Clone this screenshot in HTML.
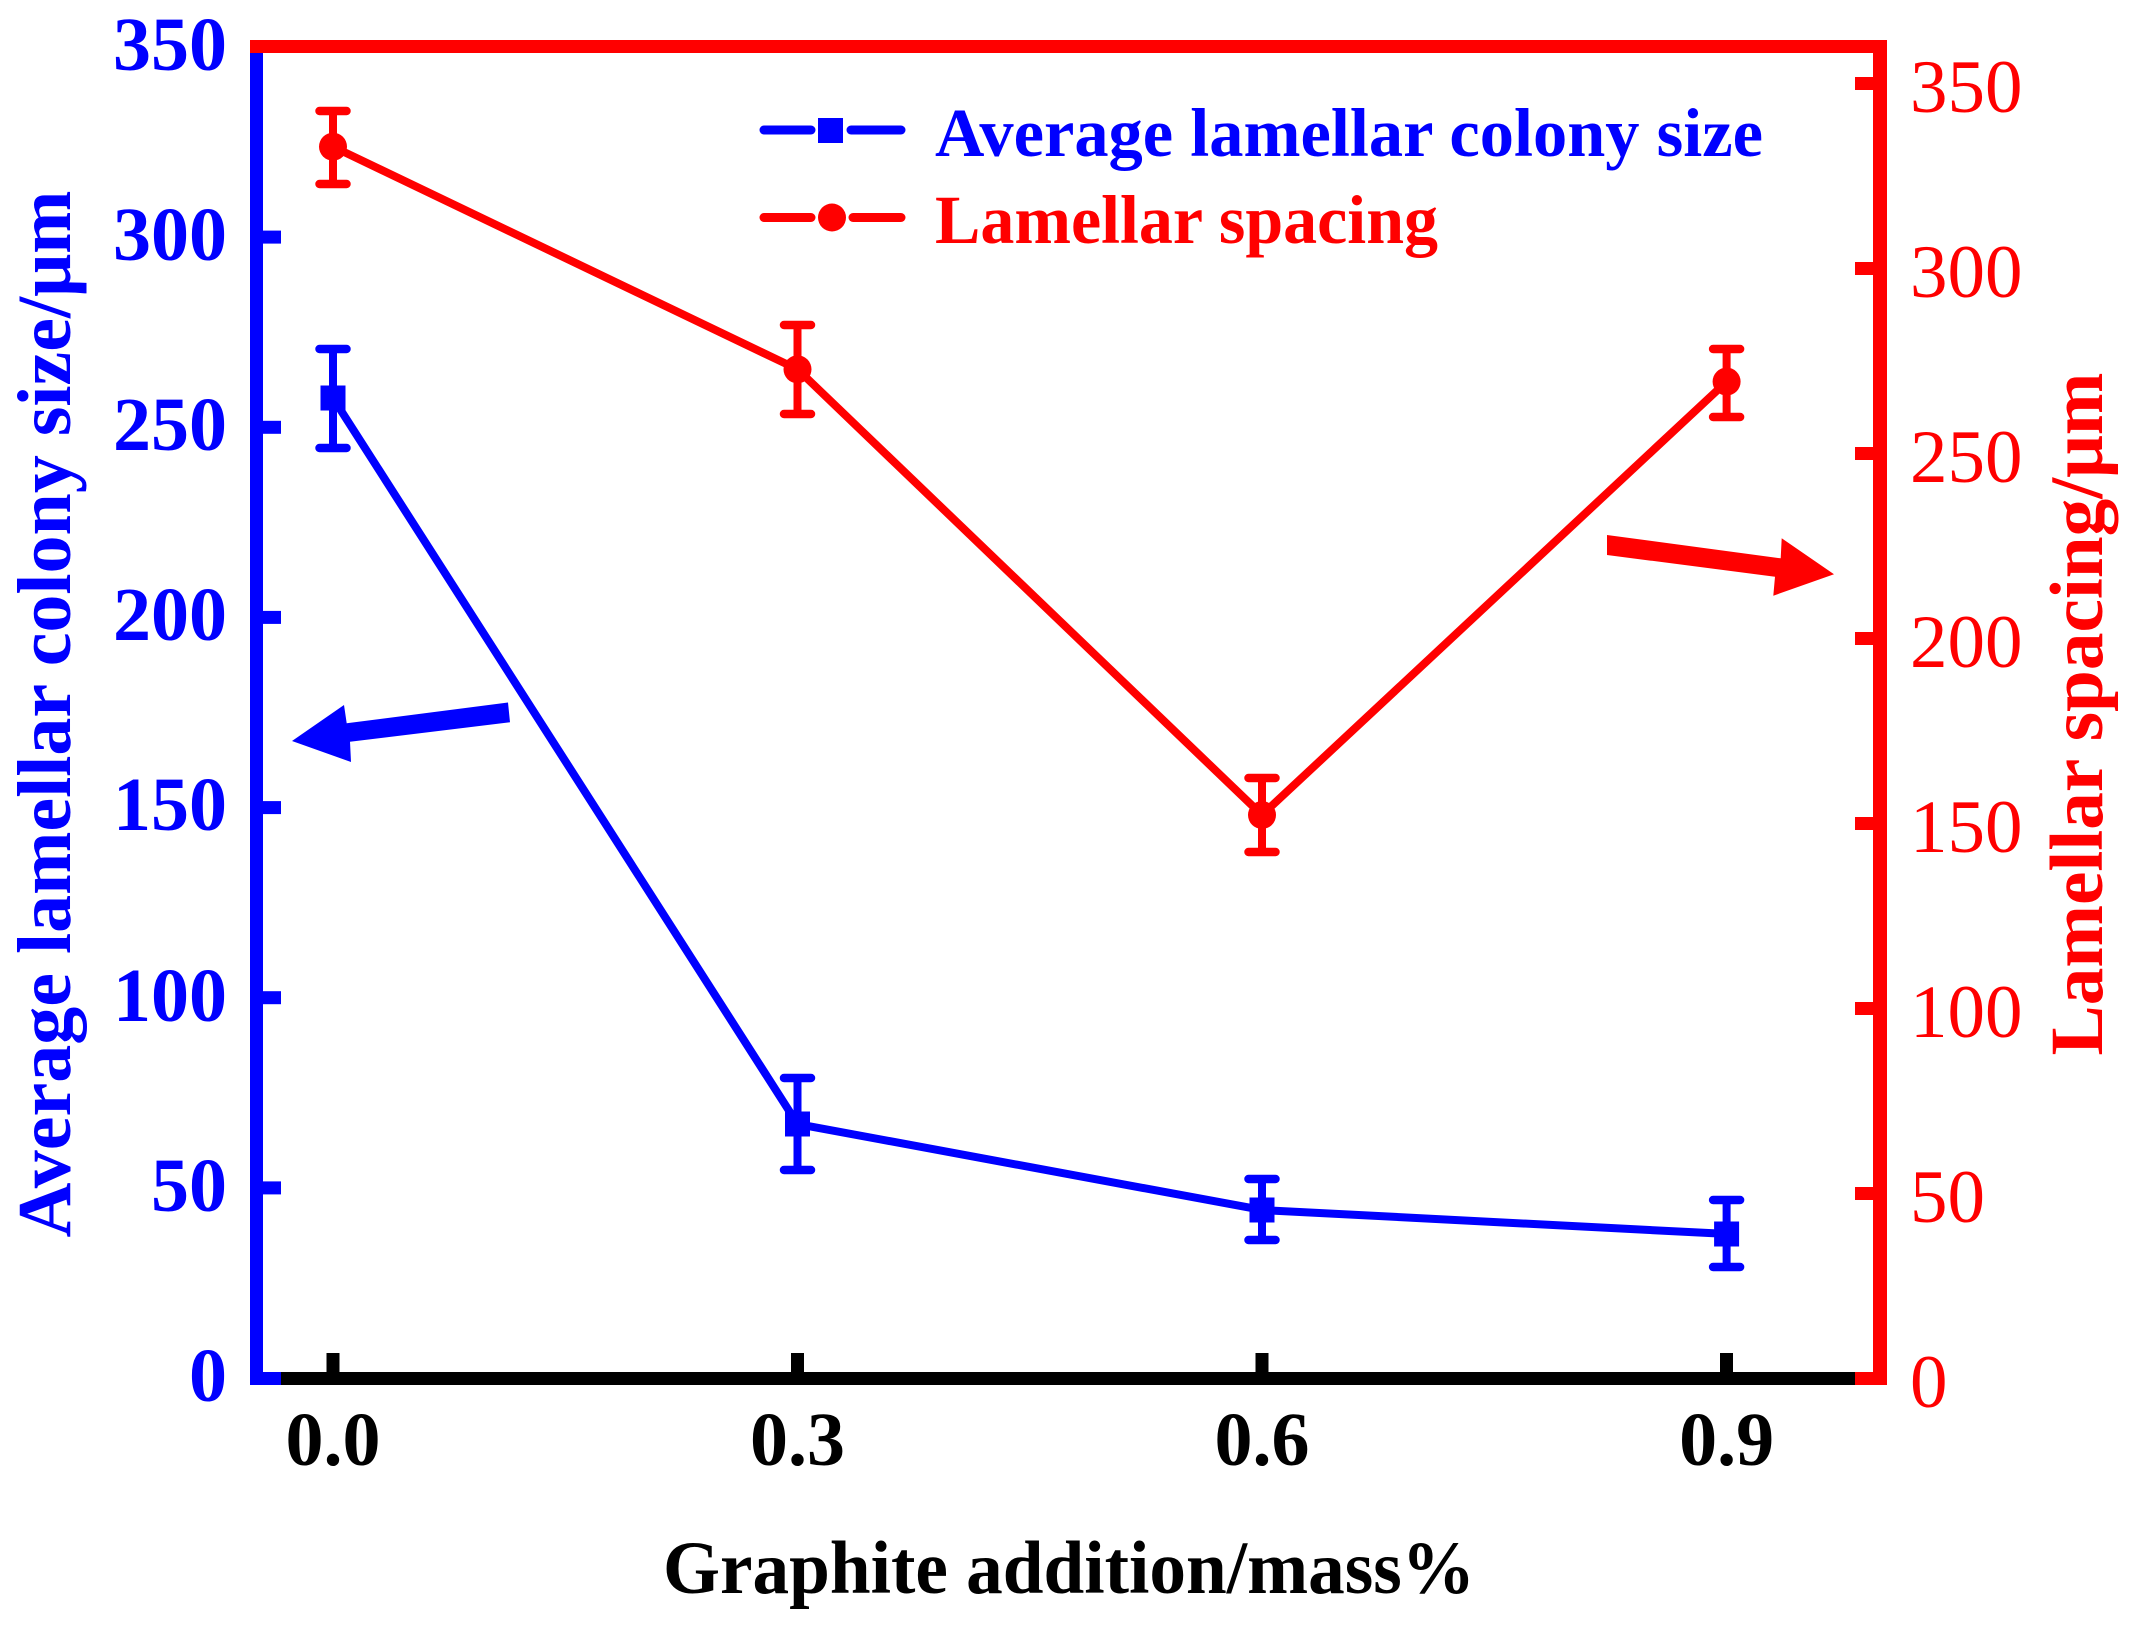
<!DOCTYPE html>
<html>
<head>
<meta charset="utf-8">
<style>
  html, body { margin: 0; padding: 0; background: #fff; }
  svg { display: block; }
  text { font-family: "Liberation Serif", "Times New Roman", serif; }
</style>
</head>
<body>
<svg width="2129" height="1625" viewBox="0 0 2129 1625" xmlns="http://www.w3.org/2000/svg">
  <rect x="0" y="0" width="2129" height="1625" fill="#fff"/>

  <!-- Axes frame -->
  <rect x="250" y="53" width="13" height="1332" fill="#0000FF"/>
  <rect x="250" y="1372" width="31" height="13" fill="#0000FF"/>
  <rect x="281" y="1372" width="1576" height="13" fill="#000"/>
  <rect x="1855" y="1372" width="32" height="13" fill="#FF0000"/>
  <rect x="1873" y="40" width="14" height="1345" fill="#FF0000"/>
  <rect x="250" y="40" width="1637" height="13" fill="#FF0000"/>

  <!-- Left ticks -->
  <g fill="#0000FF">
    <rect x="263" y="1181.4" width="18" height="13"/>
    <rect x="263" y="991.2" width="18" height="13"/>
    <rect x="263" y="801.1" width="18" height="13"/>
    <rect x="263" y="610.9" width="18" height="13"/>
    <rect x="263" y="420.8" width="18" height="13"/>
    <rect x="263" y="230.6" width="18" height="13"/>
  </g>
  <!-- Right ticks -->
  <g fill="#FF0000">
    <rect x="1855" y="1187" width="18" height="13"/>
    <rect x="1855" y="1002" width="18" height="13"/>
    <rect x="1855" y="817" width="18" height="13"/>
    <rect x="1855" y="632" width="18" height="13"/>
    <rect x="1855" y="447" width="18" height="13"/>
    <rect x="1855" y="262" width="18" height="13"/>
    <rect x="1855" y="77" width="18" height="13"/>
  </g>
  <!-- X ticks -->
  <g fill="#000">
    <rect x="326.5" y="1353" width="13" height="19"/>
    <rect x="791" y="1353" width="13" height="19"/>
    <rect x="1255.5" y="1353" width="13" height="19"/>
    <rect x="1720" y="1353" width="13" height="19"/>
  </g>

  <!-- Left tick labels -->
  <g fill="#0000FF" font-weight="bold" font-size="76" text-anchor="end">
    <text x="227" y="1401">0</text>
    <text x="227" y="1211">50</text>
    <text x="227" y="1021">100</text>
    <text x="227" y="830">150</text>
    <text x="227" y="640">200</text>
    <text x="227" y="450">250</text>
    <text x="227" y="260">300</text>
    <text x="227" y="70">350</text>
  </g>
  <!-- Right tick labels -->
  <g fill="#FF0000" font-size="75" text-anchor="start">
    <text x="1910" y="1407">0</text>
    <text x="1910" y="1222">50</text>
    <text x="1910" y="1037">100</text>
    <text x="1910" y="852">150</text>
    <text x="1910" y="667">200</text>
    <text x="1910" y="482">250</text>
    <text x="1910" y="297">300</text>
    <text x="1910" y="112">350</text>
  </g>
  <!-- X tick labels -->
  <g fill="#000" font-weight="bold" font-size="76" text-anchor="middle">
    <text x="333" y="1465">0.0</text>
    <text x="797.5" y="1465">0.3</text>
    <text x="1262" y="1465">0.6</text>
    <text x="1726.6" y="1465">0.9</text>
  </g>

  <!-- Axis titles -->
  <text x="1069" y="1593" fill="#000" font-weight="bold" font-size="75" text-anchor="middle" textLength="812" lengthAdjust="spacingAndGlyphs">Graphite addition/mass%</text>
  <text transform="translate(70,714) rotate(-90)" x="0" y="0" fill="#0000FF" font-weight="bold" font-size="76" text-anchor="middle">Average lamellar colony size/μm</text>
  <text transform="translate(2102,714) rotate(-90)" x="0" y="0" fill="#FF0000" font-weight="bold" font-size="75.5" text-anchor="middle" textLength="683" lengthAdjust="spacingAndGlyphs">Lamellar spacing/μm</text>

  <!-- Blue series -->
  <g stroke="#0000FF" stroke-width="8" stroke-linecap="round" fill="none">
    <line x1="340" y1="409" x2="790.5" y2="1113"/>
    <line x1="810.3" y1="1126.4" x2="1249.2" y2="1207.6"/>
    <line x1="1275" y1="1210.7" x2="1713.6" y2="1233.3"/>
  </g>
  <g stroke="#0000FF" stroke-linecap="round" fill="none">
    <line x1="333" y1="349" x2="333" y2="448" stroke-width="8"/>
    <line x1="319.5" y1="349" x2="346.5" y2="349" stroke-width="8.5"/>
    <line x1="319.5" y1="448" x2="346.5" y2="448" stroke-width="8.5"/>
    <line x1="797.5" y1="1078" x2="797.5" y2="1170" stroke-width="8"/>
    <line x1="784" y1="1078" x2="811" y2="1078" stroke-width="8.5"/>
    <line x1="784" y1="1170" x2="811" y2="1170" stroke-width="8.5"/>
    <line x1="1262" y1="1179" x2="1262" y2="1240" stroke-width="8"/>
    <line x1="1248.5" y1="1179" x2="1275.5" y2="1179" stroke-width="8.5"/>
    <line x1="1248.5" y1="1240" x2="1275.5" y2="1240" stroke-width="8.5"/>
    <line x1="1726.6" y1="1200" x2="1726.6" y2="1267" stroke-width="8"/>
    <line x1="1713.1" y1="1200" x2="1740.1" y2="1200" stroke-width="8.5"/>
    <line x1="1713.1" y1="1267" x2="1740.1" y2="1267" stroke-width="8.5"/>
  </g>
  <g fill="#0000FF">
    <rect x="320.5" y="385.5" width="25" height="25"/>
    <rect x="785" y="1111.5" width="25" height="25"/>
    <rect x="1249.5" y="1197.5" width="25" height="25"/>
    <rect x="1714.1" y="1221.5" width="25" height="25"/>
  </g>

  <!-- Red series -->
  <g stroke="#FF0000" stroke-width="8" stroke-linecap="round" fill="none">
    <line x1="344.7" y1="152.3" x2="785.8" y2="363.7"/>
    <line x1="806.9" y1="378.3" x2="1252.6" y2="806"/>
    <line x1="1271.5" y1="806.1" x2="1717.1" y2="390.5"/>
  </g>
  <g stroke="#FF0000" stroke-linecap="round" fill="none">
    <line x1="333" y1="111" x2="333" y2="184" stroke-width="8"/>
    <line x1="319.5" y1="111" x2="346.5" y2="111" stroke-width="8.5"/>
    <line x1="319.5" y1="184" x2="346.5" y2="184" stroke-width="8.5"/>
    <line x1="797.5" y1="325" x2="797.5" y2="414" stroke-width="8"/>
    <line x1="784" y1="325" x2="811" y2="325" stroke-width="8.5"/>
    <line x1="784" y1="414" x2="811" y2="414" stroke-width="8.5"/>
    <line x1="1262" y1="778" x2="1262" y2="852" stroke-width="8"/>
    <line x1="1248.5" y1="778" x2="1275.5" y2="778" stroke-width="8.5"/>
    <line x1="1248.5" y1="852" x2="1275.5" y2="852" stroke-width="8.5"/>
    <line x1="1726.6" y1="349" x2="1726.6" y2="417" stroke-width="8"/>
    <line x1="1713.1" y1="349" x2="1740.1" y2="349" stroke-width="8.5"/>
    <line x1="1713.1" y1="417" x2="1740.1" y2="417" stroke-width="8.5"/>
  </g>
  <g fill="#FF0000">
    <circle cx="333" cy="146.7" r="14"/>
    <circle cx="797.5" cy="369.3" r="14"/>
    <circle cx="1262" cy="815" r="14"/>
    <circle cx="1726.6" cy="381.6" r="14"/>
  </g>

  <!-- Arrows -->
  <polygon fill="#0000FF" points="292,741 344,705 346.7,723.3 508,702.5 510,722.3 350,741.7 351,762"/>
  <polygon fill="#FF0000" points="1607,535 1780.7,558.3 1781.7,538.3 1834,574.3 1773.3,595.7 1775,576.7 1607,555"/>

  <!-- Legend -->
  <g stroke="#0000FF" stroke-width="9" stroke-linecap="round">
    <line x1="764" y1="130" x2="811" y2="130"/>
    <line x1="851" y1="130" x2="901" y2="130"/>
  </g>
  <rect x="818" y="118" width="25" height="25" fill="#0000FF"/>
  <g stroke="#FF0000" stroke-width="9" stroke-linecap="round">
    <line x1="764" y1="217.5" x2="811" y2="217.5"/>
    <line x1="853" y1="217.5" x2="901" y2="217.5"/>
  </g>
  <circle cx="832" cy="217.5" r="14" fill="#FF0000"/>
  <text x="935" y="156" fill="#0000FF" font-weight="bold" font-size="69" textLength="828" lengthAdjust="spacingAndGlyphs">Average lamellar colony size</text>
  <text x="935" y="243" fill="#FF0000" font-weight="bold" font-size="69" textLength="503" lengthAdjust="spacingAndGlyphs">Lamellar spacing</text>
</svg>
</body>
</html>
